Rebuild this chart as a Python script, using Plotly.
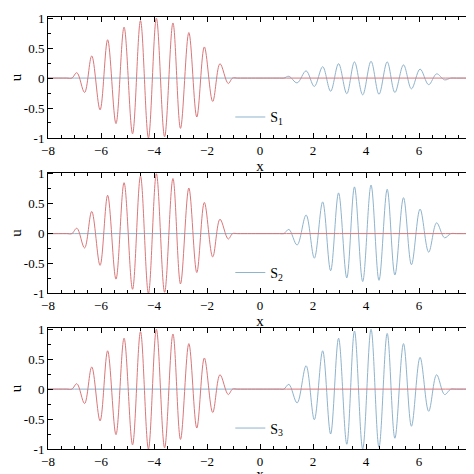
import plotly.graph_objects as go
from plotly.subplots import make_subplots

# extrema of the red packet (same in all panels); flat zero parts at both ends
red_x = [-8, -7.6, -7.3, -7.1, -6.91, -6.62, -6.35, -6.035, -5.75, -5.435, -5.13, -4.81, -4.51, -4.21,
         -3.91, -3.60, -3.285, -3.0, -2.685, -2.385, -2.10, -1.785, -1.51, -1.20, -1.035,
         -0.85, -0.6, 0, 1, 2, 3, 4, 5, 6, 7, 8]
red_u = [0, 0, 0, 0, 0.09, -0.24, 0.37, -0.53, 0.64, -0.76, 0.85, -0.93, 0.96, -1.0,
         1.0, -0.98, 0.92, -0.84, 0.76, -0.65, 0.52, -0.39, 0.24, -0.09, 0,
         0, 0, 0, 0, 0, 0, 0, 0, 0, 0, 0]

# extrema of the blue packets
blue_x = [-8, -7, -6, -5, -4, -3, -2, -1, 0, 0.5, 0.75, 0.9, 1.09, 1.40, 1.74, 2.05, 2.365, 2.665,
          2.965, 3.275, 3.565, 3.875, 4.19, 4.49, 4.80, 5.09, 5.415, 5.715, 6.04, 6.365, 6.665,
          6.965, 7.2, 7.4, 7.7, 8]
s1_u = [0, 0, 0, 0, 0, 0, 0, 0, 0, 0, 0, 0, 0.03, -0.08, 0.12, -0.14, 0.19, -0.22,
        0.24, -0.26, 0.27, -0.28, 0.28, -0.27, 0.27, -0.24, 0.22, -0.18, 0.15, -0.11, 0.07,
        -0.03, 0, 0, 0, 0]
s2_u = [0, 0, 0, 0, 0, 0, 0, 0, 0, 0, 0, 0, 0.07, -0.19, 0.31, -0.41, 0.53, -0.62,
        0.68, -0.74, 0.78, -0.80, 0.81, -0.78, 0.74, -0.69, 0.60, -0.52, 0.41, -0.31, 0.18,
        -0.07, 0, 0, 0, 0]
s3_u = [0, 0, 0, 0, 0, 0, 0, 0, 0, 0, 0, 0, 0.08, -0.23, 0.39, -0.51, 0.64, -0.75,
        0.85, -0.92, 0.97, -1.0, 1.0, -0.97, 0.93, -0.82, 0.76, -0.62, 0.53, -0.37, 0.24,
        -0.09, 0, 0, 0, 0]
names = ["S<sub>1</sub>", "S<sub>2</sub>", "S<sub>3</sub>"]

RED = "#d9777a"
BLUE = "#8fb3cc"
FONT = "Times New Roman, Liberation Serif, DejaVu Serif, serif"

fig = make_subplots(rows=3, cols=1, vertical_spacing=0.08)

for i, su in enumerate([s1_u, s2_u, s3_u]):
    row = i + 1
    leg = "legend" if i == 0 else "legend%d" % row
    fig.add_trace(go.Scatter(x=blue_x, y=su, mode="lines", name=names[i],
                             line=dict(color=BLUE, width=1, shape="spline", smoothing=1),
                             legend=leg), row=row, col=1)
    fig.add_trace(go.Scatter(x=red_x, y=red_u, mode="lines", showlegend=False,
                             line=dict(color=RED, width=1, shape="spline", smoothing=1)),
                  row=row, col=1)

axis_style = dict(showline=True, linecolor="black", linewidth=1, mirror="ticks",
                  ticks="inside", ticklen=5, tickcolor="black", showgrid=False,
                  zeroline=False, tickfont=dict(family=FONT, size=13, color="black"))

fig.update_xaxes(range=[-8, 8], dtick=2, title_text="x", title_standoff=0,
                 title_font=dict(family=FONT, size=15, color="black"),
                 minor=dict(ticks="inside", ticklen=3, tickcolor="black", dtick=0.5), **axis_style)
fig.update_yaxes(range=[-1, 1.02], tickvals=[-1, -0.5, 0, 0.5, 1],
                 ticktext=["-1", "-0.5", "0", "0.5", "1"], title_text="u", title_standoff=2,
                 title_font=dict(family=FONT, size=15, color="black"),
                 minor=dict(ticks="inside", ticklen=3, tickcolor="black",
                            tickvals=[-0.75, -0.25, 0.25, 0.75]), **axis_style)

leg_style = dict(x=0.43, xanchor="left", yanchor="middle", bgcolor="rgba(0,0,0,0)",
                 font=dict(family=FONT, size=14, color="black"))
domains = [fig.layout.yaxis.domain, fig.layout.yaxis2.domain, fig.layout.yaxis3.domain]
fig.update_layout(
    width=474, height=474,
    margin=dict(l=40, r=10, t=3, b=32),
    plot_bgcolor="white", paper_bgcolor="white",
    legend=dict(y=domains[0][0] + 0.17 * (domains[0][1] - domains[0][0]), **leg_style),
    legend2=dict(y=domains[1][0] + 0.17 * (domains[1][1] - domains[1][0]), **leg_style),
    legend3=dict(y=domains[2][0] + 0.17 * (domains[2][1] - domains[2][0]), **leg_style),
)

fig.write_html("out.html")
